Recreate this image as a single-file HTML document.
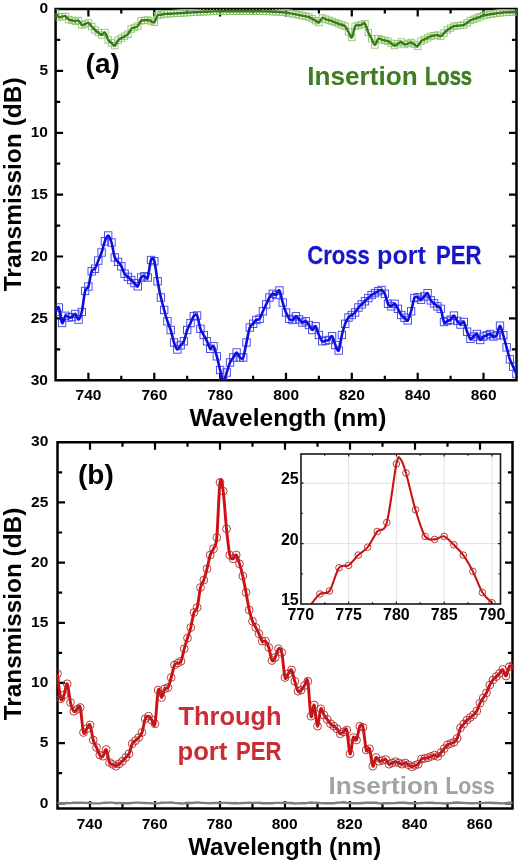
<!DOCTYPE html>
<html lang="en"><head><meta charset="utf-8"><title>Transmission vs Wavelength</title>
<style>html,body{margin:0;padding:0;background:#fff}body{width:520px;height:862px;overflow:hidden}</style></head>
<body>
<svg width="520" height="862" viewBox="0 0 520 862" style="display:block">
<rect width="520" height="862" fill="#fff"/>
<g id="panel-a">
<path d="M88.4 9.0v7.5M88.4 380.25v-7.5M121.3 9.0v4.6M121.3 380.25v-4.6M154.3 9.0v7.5M154.3 380.25v-7.5M187.2 9.0v4.6M187.2 380.25v-4.6M220.1 9.0v7.5M220.1 380.25v-7.5M253.1 9.0v4.6M253.1 380.25v-4.6M286.0 9.0v7.5M286.0 380.25v-7.5M318.9 9.0v4.6M318.9 380.25v-4.6M351.8 9.0v7.5M351.8 380.25v-7.5M384.8 9.0v4.6M384.8 380.25v-4.6M417.7 9.0v7.5M417.7 380.25v-7.5M450.6 9.0v4.6M450.6 380.25v-4.6M483.5 9.0v7.5M483.5 380.25v-7.5M55.6 39.9h4.6M516.5 39.9h-4.6M55.6 70.9h7.5M516.5 70.9h-7.5M55.6 101.8h4.6M516.5 101.8h-4.6M55.6 132.8h7.5M516.5 132.8h-7.5M55.6 163.7h4.6M516.5 163.7h-4.6M55.6 194.7h7.5M516.5 194.7h-7.5M55.6 225.6h4.6M516.5 225.6h-4.6M55.6 256.5h7.5M516.5 256.5h-7.5M55.6 287.5h4.6M516.5 287.5h-4.6M55.6 318.4h7.5M516.5 318.4h-7.5M55.6 349.4h4.6M516.5 349.4h-4.6" stroke="#000" stroke-width="2.2" fill="none"/>
<rect x="55.6" y="9.0" width="460.90" height="371.25" fill="none" stroke="#000" stroke-width="2.5"/>
<clipPath id="ca"><rect x="55.6" y="9.0" width="460.90" height="371.25"/></clipPath>
<g clip-path="url(#ca)">
<g fill="none" stroke="#8fc56e" stroke-width="0.9">
<rect x="52.3" y="9.8" width="6.4" height="6.4"/>
<rect x="55.6" y="13.8" width="6.4" height="6.4"/>
<rect x="58.9" y="13.4" width="6.4" height="6.4"/>
<rect x="62.2" y="13.1" width="6.4" height="6.4"/>
<rect x="65.5" y="16.3" width="6.4" height="6.4"/>
<rect x="68.8" y="17.2" width="6.4" height="6.4"/>
<rect x="72.1" y="18.1" width="6.4" height="6.4"/>
<rect x="75.3" y="17.3" width="6.4" height="6.4"/>
<rect x="78.6" y="21.8" width="6.4" height="6.4"/>
<rect x="81.9" y="20.8" width="6.4" height="6.4"/>
<rect x="85.2" y="19.8" width="6.4" height="6.4"/>
<rect x="88.5" y="23.3" width="6.4" height="6.4"/>
<rect x="91.8" y="26.8" width="6.4" height="6.4"/>
<rect x="95.1" y="29.3" width="6.4" height="6.4"/>
<rect x="98.4" y="31.8" width="6.4" height="6.4"/>
<rect x="101.7" y="29.3" width="6.4" height="6.4"/>
<rect x="105.0" y="36.8" width="6.4" height="6.4"/>
<rect x="108.3" y="39.7" width="6.4" height="6.4"/>
<rect x="111.6" y="42.5" width="6.4" height="6.4"/>
<rect x="114.9" y="37.0" width="6.4" height="6.4"/>
<rect x="118.1" y="35.0" width="6.4" height="6.4"/>
<rect x="121.4" y="33.0" width="6.4" height="6.4"/>
<rect x="124.7" y="31.1" width="6.4" height="6.4"/>
<rect x="128.0" y="25.8" width="6.4" height="6.4"/>
<rect x="131.3" y="24.3" width="6.4" height="6.4"/>
<rect x="134.6" y="22.8" width="6.4" height="6.4"/>
<rect x="137.9" y="17.6" width="6.4" height="6.4"/>
<rect x="141.2" y="17.2" width="6.4" height="6.4"/>
<rect x="144.5" y="16.8" width="6.4" height="6.4"/>
<rect x="147.8" y="17.9" width="6.4" height="6.4"/>
<rect x="151.1" y="19.1" width="6.4" height="6.4"/>
<rect x="154.4" y="12.3" width="6.4" height="6.4"/>
<rect x="157.7" y="11.6" width="6.4" height="6.4"/>
<rect x="161.0" y="10.8" width="6.4" height="6.4"/>
<rect x="164.2" y="10.6" width="6.4" height="6.4"/>
<rect x="167.5" y="10.5" width="6.4" height="6.4"/>
<rect x="170.8" y="10.3" width="6.4" height="6.4"/>
<rect x="174.1" y="10.1" width="6.4" height="6.4"/>
<rect x="177.4" y="9.9" width="6.4" height="6.4"/>
<rect x="180.7" y="9.7" width="6.4" height="6.4"/>
<rect x="184.0" y="9.5" width="6.4" height="6.4"/>
<rect x="187.3" y="9.3" width="6.4" height="6.4"/>
<rect x="190.6" y="9.1" width="6.4" height="6.4"/>
<rect x="193.9" y="9.0" width="6.4" height="6.4"/>
<rect x="197.2" y="8.8" width="6.4" height="6.4"/>
<rect x="200.5" y="8.6" width="6.4" height="6.4"/>
<rect x="203.8" y="8.5" width="6.4" height="6.4"/>
<rect x="207.0" y="8.3" width="6.4" height="6.4"/>
<rect x="210.3" y="8.2" width="6.4" height="6.4"/>
<rect x="213.6" y="8.2" width="6.4" height="6.4"/>
<rect x="216.9" y="8.1" width="6.4" height="6.4"/>
<rect x="220.2" y="8.1" width="6.4" height="6.4"/>
<rect x="223.5" y="8.1" width="6.4" height="6.4"/>
<rect x="226.8" y="8.0" width="6.4" height="6.4"/>
<rect x="230.1" y="8.0" width="6.4" height="6.4"/>
<rect x="233.4" y="8.0" width="6.4" height="6.4"/>
<rect x="236.7" y="8.0" width="6.4" height="6.4"/>
<rect x="240.0" y="8.0" width="6.4" height="6.4"/>
<rect x="243.3" y="8.0" width="6.4" height="6.4"/>
<rect x="246.6" y="8.0" width="6.4" height="6.4"/>
<rect x="249.9" y="8.1" width="6.4" height="6.4"/>
<rect x="253.1" y="8.1" width="6.4" height="6.4"/>
<rect x="256.4" y="8.1" width="6.4" height="6.4"/>
<rect x="259.7" y="8.2" width="6.4" height="6.4"/>
<rect x="263.0" y="8.2" width="6.4" height="6.4"/>
<rect x="266.3" y="8.3" width="6.4" height="6.4"/>
<rect x="269.6" y="8.5" width="6.4" height="6.4"/>
<rect x="272.9" y="8.7" width="6.4" height="6.4"/>
<rect x="276.2" y="8.9" width="6.4" height="6.4"/>
<rect x="279.5" y="9.1" width="6.4" height="6.4"/>
<rect x="282.8" y="9.3" width="6.4" height="6.4"/>
<rect x="286.1" y="9.9" width="6.4" height="6.4"/>
<rect x="289.4" y="10.6" width="6.4" height="6.4"/>
<rect x="292.7" y="11.2" width="6.4" height="6.4"/>
<rect x="295.9" y="11.8" width="6.4" height="6.4"/>
<rect x="299.2" y="12.5" width="6.4" height="6.4"/>
<rect x="302.5" y="13.1" width="6.4" height="6.4"/>
<rect x="305.8" y="13.8" width="6.4" height="6.4"/>
<rect x="309.1" y="15.6" width="6.4" height="6.4"/>
<rect x="312.4" y="17.5" width="6.4" height="6.4"/>
<rect x="315.7" y="19.3" width="6.4" height="6.4"/>
<rect x="319.0" y="14.8" width="6.4" height="6.4"/>
<rect x="322.3" y="15.9" width="6.4" height="6.4"/>
<rect x="325.6" y="17.0" width="6.4" height="6.4"/>
<rect x="328.9" y="18.1" width="6.4" height="6.4"/>
<rect x="332.2" y="19.3" width="6.4" height="6.4"/>
<rect x="335.5" y="20.6" width="6.4" height="6.4"/>
<rect x="338.7" y="21.8" width="6.4" height="6.4"/>
<rect x="342.0" y="23.1" width="6.4" height="6.4"/>
<rect x="345.3" y="28.7" width="6.4" height="6.4"/>
<rect x="348.6" y="34.3" width="6.4" height="6.4"/>
<rect x="351.9" y="23.1" width="6.4" height="6.4"/>
<rect x="355.2" y="22.2" width="6.4" height="6.4"/>
<rect x="358.5" y="21.4" width="6.4" height="6.4"/>
<rect x="361.8" y="20.6" width="6.4" height="6.4"/>
<rect x="365.1" y="29.3" width="6.4" height="6.4"/>
<rect x="368.4" y="35.5" width="6.4" height="6.4"/>
<rect x="371.7" y="41.8" width="6.4" height="6.4"/>
<rect x="375.0" y="35.5" width="6.4" height="6.4"/>
<rect x="378.3" y="36.4" width="6.4" height="6.4"/>
<rect x="381.6" y="37.2" width="6.4" height="6.4"/>
<rect x="384.8" y="38.0" width="6.4" height="6.4"/>
<rect x="388.1" y="40.2" width="6.4" height="6.4"/>
<rect x="391.4" y="42.3" width="6.4" height="6.4"/>
<rect x="394.7" y="40.5" width="6.4" height="6.4"/>
<rect x="398.0" y="38.8" width="6.4" height="6.4"/>
<rect x="401.3" y="41.3" width="6.4" height="6.4"/>
<rect x="404.6" y="40.3" width="6.4" height="6.4"/>
<rect x="407.9" y="39.3" width="6.4" height="6.4"/>
<rect x="411.2" y="41.2" width="6.4" height="6.4"/>
<rect x="414.5" y="43.0" width="6.4" height="6.4"/>
<rect x="417.8" y="38.0" width="6.4" height="6.4"/>
<rect x="421.1" y="36.4" width="6.4" height="6.4"/>
<rect x="424.4" y="34.7" width="6.4" height="6.4"/>
<rect x="427.6" y="33.0" width="6.4" height="6.4"/>
<rect x="430.9" y="32.4" width="6.4" height="6.4"/>
<rect x="434.2" y="31.8" width="6.4" height="6.4"/>
<rect x="437.5" y="33.0" width="6.4" height="6.4"/>
<rect x="440.8" y="29.9" width="6.4" height="6.4"/>
<rect x="444.1" y="26.8" width="6.4" height="6.4"/>
<rect x="447.4" y="24.9" width="6.4" height="6.4"/>
<rect x="450.7" y="23.1" width="6.4" height="6.4"/>
<rect x="454.0" y="22.6" width="6.4" height="6.4"/>
<rect x="457.3" y="22.2" width="6.4" height="6.4"/>
<rect x="460.6" y="21.8" width="6.4" height="6.4"/>
<rect x="463.9" y="19.6" width="6.4" height="6.4"/>
<rect x="467.2" y="17.3" width="6.4" height="6.4"/>
<rect x="470.4" y="16.1" width="6.4" height="6.4"/>
<rect x="473.7" y="14.8" width="6.4" height="6.4"/>
<rect x="477.0" y="13.6" width="6.4" height="6.4"/>
<rect x="480.3" y="12.3" width="6.4" height="6.4"/>
<rect x="483.6" y="11.7" width="6.4" height="6.4"/>
<rect x="486.9" y="11.1" width="6.4" height="6.4"/>
<rect x="490.2" y="10.6" width="6.4" height="6.4"/>
<rect x="493.5" y="10.1" width="6.4" height="6.4"/>
<rect x="496.8" y="9.7" width="6.4" height="6.4"/>
<rect x="500.1" y="9.3" width="6.4" height="6.4"/>
<rect x="503.4" y="9.2" width="6.4" height="6.4"/>
<rect x="506.7" y="9.1" width="6.4" height="6.4"/>
<rect x="510.0" y="8.9" width="6.4" height="6.4"/>
<rect x="513.2" y="8.8" width="6.4" height="6.4"/>
</g>
<path d="M55.5 13.0C56.0 13.7 57.7 16.4 58.8 17.0C59.9 17.6 61.0 16.8 62.1 16.6C63.2 16.5 64.3 15.8 65.4 16.2C66.5 16.7 67.6 18.8 68.7 19.5C69.8 20.2 70.9 20.1 72.0 20.4C73.1 20.7 74.2 21.2 75.3 21.2C76.4 21.3 77.5 19.9 78.5 20.5C79.6 21.1 80.7 24.4 81.8 25.0C82.9 25.6 84.0 24.3 85.1 24.0C86.2 23.7 87.3 22.6 88.4 23.0C89.5 23.4 90.6 25.3 91.7 26.5C92.8 27.7 93.9 29.0 95.0 30.0C96.1 31.0 97.2 31.7 98.3 32.5C99.4 33.3 100.5 35.0 101.6 35.0C102.7 35.0 103.8 31.7 104.9 32.5C106.0 33.3 107.1 38.3 108.2 40.0C109.3 41.7 110.4 41.9 111.5 42.9C112.6 43.8 113.7 46.2 114.8 45.8C115.9 45.3 117.0 41.5 118.1 40.2C119.2 39.0 120.3 38.9 121.3 38.2C122.4 37.6 123.5 36.9 124.6 36.2C125.7 35.6 126.8 35.5 127.9 34.2C129.0 33.0 130.1 30.1 131.2 29.0C132.3 27.9 133.4 28.0 134.5 27.5C135.6 27.0 136.7 27.1 137.8 26.0C138.9 24.9 140.0 21.7 141.1 20.8C142.2 19.8 143.3 20.5 144.4 20.4C145.5 20.2 146.6 19.9 147.7 20.0C148.8 20.1 149.9 20.8 151.0 21.1C152.1 21.5 153.2 23.2 154.3 22.2C155.4 21.3 156.5 16.8 157.6 15.5C158.7 14.2 159.8 15.0 160.9 14.8C162.0 14.5 163.1 14.2 164.2 14.0C165.2 13.8 166.3 13.9 167.4 13.8C168.5 13.8 169.6 13.7 170.7 13.7C171.8 13.6 172.9 13.6 174.0 13.5C175.1 13.4 176.2 13.4 177.3 13.3C178.4 13.2 179.5 13.2 180.6 13.1C181.7 13.0 182.8 13.0 183.9 12.9C185.0 12.8 186.1 12.8 187.2 12.7C188.3 12.6 189.4 12.6 190.5 12.5C191.6 12.4 192.7 12.4 193.8 12.3C194.9 12.3 196.0 12.2 197.1 12.2C198.2 12.1 199.3 12.1 200.4 12.0C201.5 11.9 202.6 11.9 203.7 11.8C204.8 11.8 205.9 11.7 207.0 11.7C208.1 11.6 209.2 11.5 210.2 11.5C211.3 11.5 212.4 11.5 213.5 11.4C214.6 11.4 215.7 11.4 216.8 11.4C217.9 11.4 219.0 11.4 220.1 11.3C221.2 11.3 222.3 11.3 223.4 11.3C224.5 11.3 225.6 11.3 226.7 11.2C227.8 11.2 228.9 11.2 230.0 11.2C231.1 11.2 232.2 11.2 233.3 11.2C234.4 11.2 235.5 11.2 236.6 11.2C237.7 11.2 238.8 11.2 239.9 11.2C241.0 11.2 242.1 11.2 243.2 11.2C244.3 11.2 245.4 11.2 246.5 11.2C247.6 11.2 248.7 11.2 249.8 11.2C250.9 11.2 252.0 11.2 253.1 11.2C254.1 11.3 255.2 11.3 256.3 11.3C257.4 11.3 258.5 11.3 259.6 11.3C260.7 11.4 261.8 11.4 262.9 11.4C264.0 11.4 265.1 11.4 266.2 11.4C267.3 11.5 268.4 11.5 269.5 11.5C270.6 11.5 271.7 11.6 272.8 11.7C273.9 11.8 275.0 11.8 276.1 11.9C277.2 12.0 278.3 12.0 279.4 12.1C280.5 12.2 281.6 12.2 282.7 12.3C283.8 12.4 284.9 12.4 286.0 12.5C287.1 12.6 288.2 12.9 289.3 13.1C290.4 13.3 291.5 13.5 292.6 13.8C293.7 14.0 294.8 14.2 295.9 14.4C296.9 14.6 298.0 14.8 299.1 15.0C300.2 15.2 301.3 15.4 302.4 15.7C303.5 15.9 304.6 16.1 305.7 16.3C306.8 16.6 307.9 16.6 309.0 17.0C310.1 17.4 311.2 18.2 312.3 18.8C313.4 19.4 314.5 20.1 315.6 20.7C316.7 21.3 317.8 22.9 318.9 22.5C320.0 22.1 321.1 18.6 322.2 18.0C323.3 17.4 324.4 18.7 325.5 19.1C326.6 19.4 327.7 19.8 328.8 20.2C329.9 20.5 331.0 20.9 332.1 21.2C333.2 21.6 334.3 22.1 335.4 22.5C336.5 22.9 337.6 23.3 338.7 23.8C339.8 24.2 340.8 24.6 341.9 25.0C343.0 25.4 344.1 25.1 345.2 26.2C346.3 27.4 347.4 30.0 348.5 31.9C349.6 33.8 350.7 38.4 351.8 37.5C352.9 36.6 354.0 28.3 355.1 26.2C356.2 24.2 357.3 25.7 358.4 25.4C359.5 25.1 360.6 24.9 361.7 24.6C362.8 24.3 363.9 22.4 365.0 23.8C366.1 25.1 367.2 30.0 368.3 32.5C369.4 35.0 370.5 36.7 371.6 38.8C372.7 40.8 373.8 45.0 374.9 45.0C376.0 45.0 377.1 39.7 378.2 38.8C379.3 37.8 380.4 39.3 381.5 39.6C382.6 39.9 383.7 40.1 384.8 40.4C385.8 40.7 386.9 40.8 388.0 41.2C389.1 41.7 390.2 42.7 391.3 43.4C392.4 44.1 393.5 45.4 394.6 45.5C395.7 45.6 396.8 44.3 397.9 43.8C399.0 43.2 400.1 41.9 401.2 42.0C402.3 42.1 403.4 44.2 404.5 44.5C405.6 44.8 406.7 43.8 407.8 43.5C408.9 43.2 410.0 42.4 411.1 42.5C412.2 42.6 413.3 43.8 414.4 44.4C415.5 45.0 416.6 46.8 417.7 46.2C418.8 45.7 419.9 42.4 421.0 41.2C422.1 40.1 423.2 40.1 424.3 39.6C425.4 39.0 426.5 38.5 427.6 37.9C428.6 37.4 429.7 36.6 430.8 36.2C431.9 35.9 433.0 35.8 434.1 35.6C435.2 35.4 436.3 34.9 437.4 35.0C438.5 35.1 439.6 36.6 440.7 36.2C441.8 35.9 442.9 34.2 444.0 33.1C445.1 32.1 446.2 30.8 447.3 30.0C448.4 29.2 449.5 28.8 450.6 28.1C451.7 27.5 452.8 26.6 453.9 26.2C455.0 25.9 456.1 26.0 457.2 25.8C458.3 25.7 459.4 25.6 460.5 25.4C461.6 25.3 462.7 25.4 463.8 25.0C464.9 24.6 466.0 23.5 467.1 22.8C468.2 22.0 469.3 21.1 470.4 20.5C471.5 19.9 472.5 19.7 473.6 19.2C474.7 18.8 475.8 18.4 476.9 18.0C478.0 17.6 479.1 17.2 480.2 16.8C481.3 16.3 482.4 15.8 483.5 15.5C484.6 15.2 485.7 15.1 486.8 14.9C487.9 14.7 489.0 14.5 490.1 14.3C491.2 14.1 492.3 13.9 493.4 13.8C494.5 13.6 495.6 13.5 496.7 13.3C497.8 13.2 498.9 13.1 500.0 12.9C501.1 12.8 502.2 12.6 503.3 12.5C504.4 12.4 505.5 12.4 506.6 12.4C507.7 12.3 508.8 12.3 509.9 12.2C511.0 12.2 512.1 12.2 513.2 12.1C514.3 12.1 515.9 12.0 516.5 12.0" fill="none" stroke="#38791a" stroke-width="2.4" stroke-linejoin="round"/>
<g fill="none" stroke="#3d3dee" stroke-width="0.9">
<rect x="51.8" y="308.3" width="7.4" height="7.4"/>
<rect x="55.1" y="303.8" width="7.4" height="7.4"/>
<rect x="58.4" y="319.3" width="7.4" height="7.4"/>
<rect x="61.7" y="312.1" width="7.4" height="7.4"/>
<rect x="65.0" y="313.8" width="7.4" height="7.4"/>
<rect x="68.3" y="313.3" width="7.4" height="7.4"/>
<rect x="71.6" y="310.3" width="7.4" height="7.4"/>
<rect x="74.8" y="315.9" width="7.4" height="7.4"/>
<rect x="78.1" y="308.3" width="7.4" height="7.4"/>
<rect x="81.4" y="287.3" width="7.4" height="7.4"/>
<rect x="84.7" y="282.8" width="7.4" height="7.4"/>
<rect x="88.0" y="267.6" width="7.4" height="7.4"/>
<rect x="91.3" y="265.1" width="7.4" height="7.4"/>
<rect x="94.6" y="256.9" width="7.4" height="7.4"/>
<rect x="97.9" y="248.8" width="7.4" height="7.4"/>
<rect x="101.2" y="237.6" width="7.4" height="7.4"/>
<rect x="104.5" y="231.8" width="7.4" height="7.4"/>
<rect x="107.8" y="238.8" width="7.4" height="7.4"/>
<rect x="111.1" y="253.8" width="7.4" height="7.4"/>
<rect x="114.4" y="258.2" width="7.4" height="7.4"/>
<rect x="117.6" y="262.6" width="7.4" height="7.4"/>
<rect x="120.9" y="270.1" width="7.4" height="7.4"/>
<rect x="124.2" y="273.2" width="7.4" height="7.4"/>
<rect x="127.5" y="276.3" width="7.4" height="7.4"/>
<rect x="130.8" y="279.4" width="7.4" height="7.4"/>
<rect x="134.1" y="282.6" width="7.4" height="7.4"/>
<rect x="137.4" y="273.8" width="7.4" height="7.4"/>
<rect x="140.7" y="272.6" width="7.4" height="7.4"/>
<rect x="144.0" y="273.8" width="7.4" height="7.4"/>
<rect x="147.3" y="256.3" width="7.4" height="7.4"/>
<rect x="150.6" y="257.6" width="7.4" height="7.4"/>
<rect x="153.9" y="277.6" width="7.4" height="7.4"/>
<rect x="157.2" y="293.8" width="7.4" height="7.4"/>
<rect x="160.5" y="306.3" width="7.4" height="7.4"/>
<rect x="163.7" y="317.6" width="7.4" height="7.4"/>
<rect x="167.0" y="326.3" width="7.4" height="7.4"/>
<rect x="170.3" y="338.8" width="7.4" height="7.4"/>
<rect x="173.6" y="345.8" width="7.4" height="7.4"/>
<rect x="176.9" y="341.7" width="7.4" height="7.4"/>
<rect x="180.2" y="337.6" width="7.4" height="7.4"/>
<rect x="183.5" y="326.3" width="7.4" height="7.4"/>
<rect x="186.8" y="319.4" width="7.4" height="7.4"/>
<rect x="190.1" y="312.6" width="7.4" height="7.4"/>
<rect x="193.4" y="311.8" width="7.4" height="7.4"/>
<rect x="196.7" y="325.1" width="7.4" height="7.4"/>
<rect x="200.0" y="331.3" width="7.4" height="7.4"/>
<rect x="203.3" y="337.6" width="7.4" height="7.4"/>
<rect x="206.5" y="345.1" width="7.4" height="7.4"/>
<rect x="209.8" y="342.6" width="7.4" height="7.4"/>
<rect x="213.1" y="352.6" width="7.4" height="7.4"/>
<rect x="216.4" y="366.3" width="7.4" height="7.4"/>
<rect x="219.7" y="377.6" width="7.4" height="7.4"/>
<rect x="223.0" y="368.8" width="7.4" height="7.4"/>
<rect x="226.3" y="358.8" width="7.4" height="7.4"/>
<rect x="229.6" y="353.8" width="7.4" height="7.4"/>
<rect x="232.9" y="348.8" width="7.4" height="7.4"/>
<rect x="236.2" y="353.8" width="7.4" height="7.4"/>
<rect x="239.5" y="353.8" width="7.4" height="7.4"/>
<rect x="242.8" y="338.8" width="7.4" height="7.4"/>
<rect x="246.1" y="323.8" width="7.4" height="7.4"/>
<rect x="249.4" y="320.1" width="7.4" height="7.4"/>
<rect x="252.6" y="316.3" width="7.4" height="7.4"/>
<rect x="255.9" y="315.1" width="7.4" height="7.4"/>
<rect x="259.2" y="307.6" width="7.4" height="7.4"/>
<rect x="262.5" y="300.7" width="7.4" height="7.4"/>
<rect x="265.8" y="293.8" width="7.4" height="7.4"/>
<rect x="269.1" y="290.1" width="7.4" height="7.4"/>
<rect x="272.4" y="291.3" width="7.4" height="7.4"/>
<rect x="275.7" y="286.8" width="7.4" height="7.4"/>
<rect x="279.0" y="298.8" width="7.4" height="7.4"/>
<rect x="282.3" y="308.8" width="7.4" height="7.4"/>
<rect x="285.6" y="315.1" width="7.4" height="7.4"/>
<rect x="288.9" y="316.3" width="7.4" height="7.4"/>
<rect x="292.2" y="312.6" width="7.4" height="7.4"/>
<rect x="295.4" y="315.7" width="7.4" height="7.4"/>
<rect x="298.7" y="318.8" width="7.4" height="7.4"/>
<rect x="302.0" y="317.6" width="7.4" height="7.4"/>
<rect x="305.3" y="321.3" width="7.4" height="7.4"/>
<rect x="308.6" y="326.3" width="7.4" height="7.4"/>
<rect x="311.9" y="322.6" width="7.4" height="7.4"/>
<rect x="315.2" y="331.3" width="7.4" height="7.4"/>
<rect x="318.5" y="337.6" width="7.4" height="7.4"/>
<rect x="321.8" y="336.9" width="7.4" height="7.4"/>
<rect x="325.1" y="336.3" width="7.4" height="7.4"/>
<rect x="328.4" y="332.6" width="7.4" height="7.4"/>
<rect x="331.7" y="341.3" width="7.4" height="7.4"/>
<rect x="335.0" y="346.8" width="7.4" height="7.4"/>
<rect x="338.2" y="331.3" width="7.4" height="7.4"/>
<rect x="341.5" y="320.1" width="7.4" height="7.4"/>
<rect x="344.8" y="313.8" width="7.4" height="7.4"/>
<rect x="348.1" y="311.3" width="7.4" height="7.4"/>
<rect x="351.4" y="308.8" width="7.4" height="7.4"/>
<rect x="354.7" y="303.8" width="7.4" height="7.4"/>
<rect x="358.0" y="300.7" width="7.4" height="7.4"/>
<rect x="361.3" y="297.6" width="7.4" height="7.4"/>
<rect x="364.6" y="294.4" width="7.4" height="7.4"/>
<rect x="367.9" y="291.3" width="7.4" height="7.4"/>
<rect x="371.2" y="289.4" width="7.4" height="7.4"/>
<rect x="374.5" y="287.6" width="7.4" height="7.4"/>
<rect x="377.8" y="286.3" width="7.4" height="7.4"/>
<rect x="381.1" y="290.1" width="7.4" height="7.4"/>
<rect x="384.3" y="300.1" width="7.4" height="7.4"/>
<rect x="387.6" y="302.6" width="7.4" height="7.4"/>
<rect x="390.9" y="300.1" width="7.4" height="7.4"/>
<rect x="394.2" y="305.1" width="7.4" height="7.4"/>
<rect x="397.5" y="311.3" width="7.4" height="7.4"/>
<rect x="400.8" y="314.0" width="7.4" height="7.4"/>
<rect x="404.1" y="316.7" width="7.4" height="7.4"/>
<rect x="407.4" y="307.6" width="7.4" height="7.4"/>
<rect x="410.7" y="294.3" width="7.4" height="7.4"/>
<rect x="414.0" y="293.6" width="7.4" height="7.4"/>
<rect x="417.3" y="296.0" width="7.4" height="7.4"/>
<rect x="420.6" y="292.8" width="7.4" height="7.4"/>
<rect x="423.9" y="289.5" width="7.4" height="7.4"/>
<rect x="427.1" y="296.7" width="7.4" height="7.4"/>
<rect x="430.4" y="299.7" width="7.4" height="7.4"/>
<rect x="433.7" y="302.7" width="7.4" height="7.4"/>
<rect x="437.0" y="305.1" width="7.4" height="7.4"/>
<rect x="440.3" y="318.3" width="7.4" height="7.4"/>
<rect x="443.6" y="317.2" width="7.4" height="7.4"/>
<rect x="446.9" y="316.0" width="7.4" height="7.4"/>
<rect x="450.2" y="311.9" width="7.4" height="7.4"/>
<rect x="453.5" y="317.2" width="7.4" height="7.4"/>
<rect x="456.8" y="320.8" width="7.4" height="7.4"/>
<rect x="460.1" y="318.3" width="7.4" height="7.4"/>
<rect x="463.4" y="328.0" width="7.4" height="7.4"/>
<rect x="466.7" y="335.2" width="7.4" height="7.4"/>
<rect x="469.9" y="332.8" width="7.4" height="7.4"/>
<rect x="473.2" y="330.3" width="7.4" height="7.4"/>
<rect x="476.5" y="336.3" width="7.4" height="7.4"/>
<rect x="479.8" y="332.8" width="7.4" height="7.4"/>
<rect x="483.1" y="331.6" width="7.4" height="7.4"/>
<rect x="486.4" y="330.3" width="7.4" height="7.4"/>
<rect x="489.7" y="332.8" width="7.4" height="7.4"/>
<rect x="493.0" y="331.6" width="7.4" height="7.4"/>
<rect x="496.3" y="322.0" width="7.4" height="7.4"/>
<rect x="499.6" y="331.6" width="7.4" height="7.4"/>
<rect x="502.9" y="343.6" width="7.4" height="7.4"/>
<rect x="506.2" y="355.6" width="7.4" height="7.4"/>
<rect x="509.5" y="362.9" width="7.4" height="7.4"/>
<rect x="512.8" y="370.3" width="7.4" height="7.4"/>
</g>
<path d="M55.5 312.0C56.0 311.2 57.7 305.7 58.8 307.5C59.9 309.3 61.0 321.6 62.1 323.0C63.2 324.4 64.3 316.7 65.4 315.8C66.5 314.9 67.6 317.3 68.7 317.5C69.8 317.7 70.9 317.6 72.0 317.0C73.1 316.4 74.2 313.6 75.3 314.0C76.4 314.4 77.5 319.9 78.5 319.6C79.6 319.3 80.7 316.8 81.8 312.0C82.9 307.2 84.0 295.2 85.1 291.0C86.2 286.8 87.3 289.8 88.4 286.5C89.5 283.2 90.6 274.2 91.7 271.2C92.8 268.3 93.9 270.5 95.0 268.8C96.1 267.0 97.2 263.3 98.3 260.6C99.4 257.9 100.5 255.7 101.6 252.5C102.7 249.3 103.8 244.1 104.9 241.2C106.0 238.4 107.1 235.3 108.2 235.5C109.3 235.7 110.4 238.8 111.5 242.5C112.6 246.2 113.7 254.3 114.8 257.5C115.9 260.7 117.0 260.4 118.1 261.9C119.2 263.3 120.3 264.3 121.3 266.2C122.4 268.2 123.5 272.0 124.6 273.8C125.7 275.5 126.8 275.8 127.9 276.9C129.0 277.9 130.1 279.0 131.2 280.0C132.3 281.0 133.4 282.1 134.5 283.1C135.6 284.2 136.7 287.2 137.8 286.2C138.9 285.3 140.0 279.2 141.1 277.5C142.2 275.8 143.3 276.2 144.4 276.2C145.5 276.2 146.6 280.2 147.7 277.5C148.8 274.8 149.9 262.7 151.0 260.0C152.1 257.3 153.2 257.7 154.3 261.2C155.4 264.8 156.5 275.2 157.6 281.2C158.7 287.3 159.8 292.7 160.9 297.5C162.0 302.3 163.1 306.0 164.2 310.0C165.2 314.0 166.3 317.9 167.4 321.2C168.5 324.6 169.6 326.5 170.7 330.0C171.8 333.5 172.9 339.2 174.0 342.5C175.1 345.8 176.2 349.0 177.3 349.5C178.4 350.0 179.5 346.8 180.6 345.4C181.7 344.0 182.8 343.8 183.9 341.2C185.0 338.7 186.1 333.0 187.2 330.0C188.3 327.0 189.4 325.4 190.5 323.1C191.6 320.8 192.7 317.5 193.8 316.2C194.9 315.0 196.0 313.4 197.1 315.5C198.2 317.6 199.3 325.5 200.4 328.8C201.5 332.0 202.6 332.9 203.7 335.0C204.8 337.1 205.9 339.0 207.0 341.2C208.1 343.5 209.2 347.9 210.2 348.8C211.3 349.6 212.4 345.0 213.5 346.2C214.6 347.5 215.7 352.3 216.8 356.2C217.9 360.2 219.0 365.8 220.1 370.0C221.2 374.2 222.3 380.8 223.4 381.2C224.5 381.7 225.6 375.6 226.7 372.5C227.8 369.4 228.9 365.0 230.0 362.5C231.1 360.0 232.2 359.2 233.3 357.5C234.4 355.8 235.5 352.5 236.6 352.5C237.7 352.5 238.8 356.7 239.9 357.5C241.0 358.3 242.1 360.0 243.2 357.5C244.3 355.0 245.4 347.5 246.5 342.5C247.6 337.5 248.7 330.6 249.8 327.5C250.9 324.4 252.0 325.0 253.1 323.8C254.1 322.5 255.2 320.8 256.3 320.0C257.4 319.2 258.5 320.2 259.6 318.8C260.7 317.3 261.8 313.6 262.9 311.2C264.0 308.9 265.1 306.7 266.2 304.4C267.3 302.1 268.4 299.3 269.5 297.5C270.6 295.7 271.7 294.2 272.8 293.8C273.9 293.3 275.0 295.5 276.1 295.0C277.2 294.5 278.3 289.2 279.4 290.5C280.5 291.8 281.6 298.8 282.7 302.5C283.8 306.2 284.9 309.8 286.0 312.5C287.1 315.2 288.2 317.5 289.3 318.8C290.4 320.0 291.5 320.4 292.6 320.0C293.7 319.6 294.8 316.4 295.9 316.2C296.9 316.1 298.0 318.3 299.1 319.4C300.2 320.4 301.3 322.2 302.4 322.5C303.5 322.8 304.6 320.8 305.7 321.2C306.8 321.7 307.9 323.5 309.0 325.0C310.1 326.5 311.2 329.8 312.3 330.0C313.4 330.2 314.5 325.4 315.6 326.2C316.7 327.1 317.8 332.5 318.9 335.0C320.0 337.5 321.1 340.3 322.2 341.2C323.3 342.2 324.4 340.8 325.5 340.6C326.6 340.4 327.7 340.7 328.8 340.0C329.9 339.3 331.0 335.4 332.1 336.2C333.2 337.1 334.3 342.6 335.4 345.0C336.5 347.4 337.6 352.2 338.7 350.5C339.8 348.8 340.8 339.5 341.9 335.0C343.0 330.5 344.1 326.7 345.2 323.8C346.3 320.8 347.4 319.0 348.5 317.5C349.6 316.0 350.7 315.8 351.8 315.0C352.9 314.2 354.0 313.8 355.1 312.5C356.2 311.2 357.3 308.9 358.4 307.5C359.5 306.1 360.6 305.4 361.7 304.4C362.8 303.3 363.9 302.3 365.0 301.2C366.1 300.2 367.2 299.2 368.3 298.1C369.4 297.1 370.5 295.8 371.6 295.0C372.7 294.2 373.8 293.8 374.9 293.1C376.0 292.5 377.1 291.8 378.2 291.2C379.3 290.7 380.4 289.6 381.5 290.0C382.6 290.4 383.7 291.5 384.8 293.8C385.8 296.0 386.9 301.7 388.0 303.8C389.1 305.8 390.2 306.2 391.3 306.2C392.4 306.2 393.5 303.3 394.6 303.8C395.7 304.2 396.8 306.9 397.9 308.8C399.0 310.6 400.1 313.5 401.2 315.0C402.3 316.5 403.4 316.8 404.5 317.7C405.6 318.6 406.7 321.5 407.8 320.4C408.9 319.3 410.0 315.0 411.1 311.2C412.2 307.5 413.3 300.3 414.4 298.0C415.5 295.7 416.6 297.0 417.7 297.3C418.8 297.6 419.9 299.8 421.0 299.7C422.1 299.6 423.2 297.5 424.3 296.4C425.4 295.4 426.5 292.5 427.6 293.2C428.6 293.9 429.7 298.7 430.8 300.4C431.9 302.1 433.0 302.4 434.1 303.4C435.2 304.4 436.3 305.5 437.4 306.4C438.5 307.3 439.6 306.2 440.7 308.8C441.8 311.4 442.9 320.0 444.0 322.0C445.1 324.0 446.2 321.2 447.3 320.9C448.4 320.5 449.5 320.6 450.6 319.7C451.7 318.8 452.8 315.4 453.9 315.6C455.0 315.8 456.1 319.4 457.2 320.9C458.3 322.4 459.4 324.3 460.5 324.5C461.6 324.7 462.7 320.8 463.8 322.0C464.9 323.2 466.0 328.9 467.1 331.7C468.2 334.5 469.3 338.1 470.4 338.9C471.5 339.7 472.5 337.3 473.6 336.4C474.7 335.6 475.8 333.4 476.9 334.0C478.0 334.6 479.1 339.6 480.2 340.0C481.3 340.4 482.4 337.3 483.5 336.5C484.6 335.7 485.7 335.7 486.8 335.2C487.9 334.8 489.0 333.8 490.1 334.0C491.2 334.2 492.3 336.3 493.4 336.5C494.5 336.7 495.6 337.1 496.7 335.3C497.8 333.5 498.9 325.7 500.0 325.7C501.1 325.7 502.2 331.7 503.3 335.3C504.4 338.9 505.5 343.3 506.6 347.3C507.7 351.3 508.8 356.1 509.9 359.3C511.0 362.5 512.1 364.2 513.2 366.6C514.3 369.1 515.9 372.8 516.5 374.0" fill="none" stroke="#0d0ddc" stroke-width="2.6" stroke-linejoin="round"/>
</g>
</g>
<g id="panel-b">
<path d="M90.0 442.25v7.5M90.0 808.5v-7.5M122.5 442.25v4.6M122.5 808.5v-4.6M155.0 442.25v7.5M155.0 808.5v-7.5M187.5 442.25v4.6M187.5 808.5v-4.6M220.0 442.25v7.5M220.0 808.5v-7.5M252.5 442.25v4.6M252.5 808.5v-4.6M285.0 442.25v7.5M285.0 808.5v-7.5M317.5 442.25v4.6M317.5 808.5v-4.6M350.0 442.25v7.5M350.0 808.5v-7.5M382.5 442.25v4.6M382.5 808.5v-4.6M415.0 442.25v7.5M415.0 808.5v-7.5M447.5 442.25v4.6M447.5 808.5v-4.6M480.0 442.25v7.5M480.0 808.5v-7.5M57.5 803.3h7.5M512.5 803.3h-7.5M57.5 773.2h4.6M512.5 773.2h-4.6M57.5 743.1h7.5M512.5 743.1h-7.5M57.5 713.0h4.6M512.5 713.0h-4.6M57.5 682.9h7.5M512.5 682.9h-7.5M57.5 652.9h4.6M512.5 652.9h-4.6M57.5 622.8h7.5M512.5 622.8h-7.5M57.5 592.7h4.6M512.5 592.7h-4.6M57.5 562.6h7.5M512.5 562.6h-7.5M57.5 532.5h4.6M512.5 532.5h-4.6M57.5 502.4h7.5M512.5 502.4h-7.5M57.5 472.3h4.6M512.5 472.3h-4.6" stroke="#000" stroke-width="2.2" fill="none"/>
<rect x="57.5" y="442.25" width="455.00" height="366.25" fill="none" stroke="#000" stroke-width="2.5"/>
<clipPath id="cb"><rect x="56.7" y="442.25" width="456.60" height="366.25"/></clipPath>
<g clip-path="url(#cb)">
<polyline points="57.5,803.3 60.8,803.3 64.0,803.3 67.2,803.0 70.5,803.1 73.8,802.8 77.0,802.7 80.2,802.6 83.5,802.8 86.8,802.9 90.0,803.0 93.2,803.4 96.5,803.4 99.8,803.4 103.0,802.9 106.2,802.7 109.5,802.6 112.8,802.6 116.0,803.2 119.2,803.0 122.5,803.1 125.8,803.2 129.0,803.3 132.2,802.9 135.5,802.6 138.8,802.6 142.0,802.9 145.2,803.0 148.5,803.1 151.8,803.3 155.0,803.4 158.2,803.4 161.5,802.7 164.8,802.6 168.0,802.6 171.2,802.5 174.5,802.9 177.8,803.1 181.0,803.5 184.2,803.2 187.5,802.8 190.8,803.0 194.0,802.7 197.2,802.4 200.5,802.7 203.8,802.9 207.0,803.1 210.2,803.3 213.5,802.9 216.8,803.0 220.0,803.0 223.2,802.9 226.5,802.9 229.8,803.0 233.0,803.3 236.2,803.0 239.5,803.4 242.8,803.0 246.0,803.0 249.2,802.6 252.5,802.9 255.8,802.9 259.0,802.8 262.2,803.3 265.5,803.1 268.8,803.3 272.0,803.3 275.2,802.9 278.5,802.9 281.8,803.0 285.0,802.6 288.2,803.0 291.5,803.0 294.8,803.5 298.0,803.4 301.2,803.3 304.5,803.2 307.8,802.9 311.0,802.5 314.2,802.9 317.5,802.6 320.8,803.1 324.0,803.3 327.2,803.2 330.5,803.3 333.8,803.2 337.0,802.8 340.2,802.6 343.5,802.3 346.8,802.7 350.0,803.0 353.2,803.2 356.5,803.2 359.8,803.3 363.0,803.0 366.2,802.8 369.5,802.8 372.8,802.6 376.0,802.8 379.2,803.4 382.5,803.4 385.8,803.1 389.0,803.2 392.2,803.1 395.5,803.0 398.8,802.7 402.0,802.6 405.2,802.7 408.5,803.2 411.8,803.3 415.0,803.2 418.2,803.2 421.5,803.0 424.8,802.9 428.0,802.6 431.2,802.8 434.5,803.0 437.8,803.1 441.0,803.1 444.2,803.5 447.5,803.1 450.8,803.1 454.0,802.7 457.2,802.5 460.5,802.8 463.8,802.9 467.0,803.1 470.2,803.3 473.5,803.2 476.8,803.1 480.0,803.0 483.2,803.1 486.5,802.8 489.8,802.6 493.0,803.0 496.2,803.0 499.5,803.2 502.8,803.4 506.0,803.1 509.2,802.8 512.5,802.7" fill="none" stroke="#7d7d7d" stroke-width="2.4" stroke-linejoin="round"/>
<path d="M57.5 673.8C58.0 677.9 59.7 695.2 60.8 698.8C61.8 702.3 62.9 697.5 64.0 695.0C65.1 692.5 66.2 682.5 67.2 683.8C68.3 685.0 69.4 697.9 70.5 702.5C71.6 707.1 72.7 710.1 73.8 711.2C74.8 712.4 75.9 710.0 77.0 709.4C78.1 708.8 79.2 703.6 80.2 707.5C81.3 711.4 82.4 729.0 83.5 732.5C84.6 736.0 85.7 730.0 86.8 728.8C87.8 727.5 88.9 723.1 90.0 725.0C91.1 726.9 92.2 736.2 93.2 740.0C94.3 743.8 95.4 745.0 96.5 747.5C97.6 750.0 98.7 753.5 99.8 755.0C100.8 756.5 101.9 757.2 103.0 756.2C104.1 755.3 105.2 748.5 106.2 749.5C107.3 750.5 108.4 760.0 109.5 762.5C110.6 765.0 111.7 763.8 112.8 764.4C113.8 765.0 114.9 766.4 116.0 766.2C117.1 766.1 118.2 764.6 119.2 763.8C120.3 762.9 121.4 762.3 122.5 761.2C123.6 760.2 124.7 758.8 125.8 757.5C126.8 756.2 127.9 756.0 129.0 753.8C130.1 751.5 131.2 745.9 132.2 743.8C133.3 741.6 134.4 741.7 135.5 740.6C136.6 739.6 137.7 738.9 138.8 737.5C139.8 736.1 140.9 735.6 142.0 732.5C143.1 729.4 144.2 721.5 145.2 718.8C146.3 716.0 147.4 716.0 148.5 716.2C149.6 716.5 150.7 718.8 151.8 720.0C152.8 721.2 153.9 728.8 155.0 723.8C156.1 718.8 157.2 694.4 158.2 690.0C159.3 685.6 160.4 697.7 161.5 697.5C162.6 697.3 163.7 690.4 164.8 688.8C165.8 687.1 166.9 689.4 168.0 687.5C169.1 685.6 170.2 681.2 171.2 677.5C172.3 673.8 173.4 667.4 174.5 665.0C175.6 662.6 176.7 663.8 177.8 663.1C178.8 662.5 179.9 663.6 181.0 661.2C182.1 658.9 183.2 652.6 184.2 648.8C185.3 644.9 186.4 641.7 187.5 638.1C188.6 634.6 189.7 631.8 190.8 627.5C191.8 623.2 192.9 615.8 194.0 612.5C195.1 609.2 196.2 611.7 197.2 607.5C198.3 603.3 199.4 592.1 200.5 587.5C201.6 582.9 202.7 583.1 203.8 580.0C204.8 576.9 205.9 572.9 207.0 568.8C208.1 564.6 209.2 558.3 210.2 555.0C211.3 551.7 212.4 551.7 213.5 548.8C214.6 545.8 215.7 548.5 216.8 537.5C217.8 526.5 218.9 490.2 220.0 482.5C221.1 474.8 222.2 483.5 223.2 491.2C224.3 499.0 225.4 518.1 226.5 528.8C227.6 539.4 228.7 550.0 229.8 555.0C230.8 560.0 231.9 558.8 233.0 558.8C234.1 558.8 235.2 554.2 236.2 555.0C237.3 555.8 238.4 560.2 239.5 563.8C240.6 567.2 241.7 571.2 242.8 576.0C243.8 580.8 244.9 586.8 246.0 592.5C247.1 598.2 248.2 605.2 249.2 610.0C250.3 614.8 251.4 618.3 252.5 621.2C253.6 624.2 254.7 625.4 255.8 627.5C256.8 629.6 257.9 631.5 259.0 633.8C260.1 636.0 261.2 640.0 262.2 641.2C263.3 642.5 264.4 640.2 265.5 641.2C266.6 642.3 267.7 644.3 268.8 647.5C269.8 650.7 270.9 658.8 272.0 660.5C273.1 662.2 274.2 659.5 275.2 657.5C276.3 655.5 277.4 649.6 278.5 648.8C279.6 647.9 280.7 647.7 281.8 652.5C282.8 657.3 283.9 674.0 285.0 677.5C286.1 681.0 287.2 675.0 288.2 673.8C289.3 672.5 290.4 668.8 291.5 670.0C292.6 671.2 293.7 677.7 294.8 681.2C295.8 684.8 296.9 689.8 298.0 691.2C299.1 692.7 300.2 690.9 301.2 690.0C302.3 689.1 303.4 687.1 304.5 685.6C305.6 684.2 306.7 676.1 307.8 681.2C308.8 686.4 309.9 712.3 311.0 716.2C312.1 720.2 313.2 703.3 314.2 705.0C315.3 706.7 316.4 725.6 317.5 726.2C318.6 726.9 319.7 710.6 320.8 708.8C321.8 706.9 322.9 713.2 324.0 715.0C325.1 716.8 326.2 717.9 327.2 719.4C328.3 720.8 329.4 722.6 330.5 723.8C331.6 724.9 332.7 725.4 333.8 726.2C334.8 727.1 335.9 727.5 337.0 728.8C338.1 730.0 339.2 733.2 340.2 733.8C341.3 734.3 342.4 732.5 343.5 731.9C344.6 731.2 345.7 726.4 346.8 730.0C347.8 733.6 348.9 752.5 350.0 753.8C351.1 755.0 352.2 739.8 353.2 737.5C354.3 735.2 355.4 741.9 356.5 740.0C357.6 738.1 358.7 728.3 359.8 726.2C360.8 724.2 361.9 723.5 363.0 727.5C364.1 731.5 365.2 746.5 366.2 750.0C367.3 753.5 368.4 746.0 369.5 748.8C370.6 751.5 371.7 764.8 372.8 766.2C373.8 767.7 374.9 758.3 376.0 757.5C377.1 756.7 378.2 760.8 379.2 761.2C380.3 761.7 381.4 760.7 382.5 760.4C383.6 760.1 384.7 758.9 385.8 759.5C386.8 760.1 387.9 763.6 389.0 764.2C390.1 764.8 391.2 763.3 392.2 762.9C393.3 762.5 394.4 761.6 395.5 761.6C396.6 761.6 397.7 762.5 398.8 762.9C399.8 763.3 400.9 764.2 402.0 764.2C403.1 764.2 404.2 762.8 405.2 762.9C406.3 763.0 407.4 764.2 408.5 764.8C409.6 765.5 410.7 766.7 411.8 766.8C412.8 766.9 413.9 765.9 415.0 765.5C416.1 765.1 417.2 765.3 418.2 764.2C419.3 763.1 420.4 760.0 421.5 759.0C422.6 758.0 423.7 758.6 424.8 758.4C425.8 758.1 426.9 758.0 428.0 757.7C429.1 757.4 430.2 756.8 431.2 756.4C432.3 756.0 433.4 755.1 434.5 755.1C435.6 755.1 436.7 756.8 437.8 756.4C438.8 756.0 439.9 753.8 441.0 752.5C442.1 751.2 443.2 749.9 444.2 748.6C445.3 747.3 446.4 745.6 447.5 744.8C448.6 743.9 449.7 743.9 450.8 743.5C451.8 743.1 452.9 743.1 454.0 742.2C455.1 741.3 456.2 740.7 457.2 738.3C458.3 735.9 459.4 730.3 460.5 727.9C461.6 725.5 462.7 725.3 463.8 724.0C464.8 722.7 465.9 721.2 467.0 720.1C468.1 719.0 469.2 718.4 470.2 717.5C471.3 716.6 472.4 716.0 473.5 714.9C474.6 713.8 475.7 713.0 476.8 711.0C477.8 709.0 478.9 705.4 480.0 703.2C481.1 701.0 482.2 699.7 483.2 698.0C484.3 696.3 485.4 695.0 486.5 692.8C487.6 690.6 488.7 687.1 489.8 685.0C490.8 682.9 491.9 681.3 493.0 679.9C494.1 678.5 495.2 677.7 496.2 676.6C497.3 675.6 498.4 674.6 499.5 673.4C500.6 672.2 501.7 669.1 502.8 669.5C503.8 669.9 504.9 676.4 506.0 676.0C507.1 675.6 508.2 668.6 509.2 666.9C510.3 665.2 512.0 665.8 512.5 665.6" fill="none" stroke="#d10d12" stroke-width="2.9" stroke-linejoin="round"/>
<g fill="none" stroke="#a82a2a" stroke-width="0.9">
<circle cx="57.5" cy="673.8" r="3.9"/>
<circle cx="60.8" cy="698.8" r="3.9"/>
<circle cx="64.0" cy="695.0" r="3.9"/>
<circle cx="67.2" cy="683.8" r="3.9"/>
<circle cx="70.5" cy="702.5" r="3.9"/>
<circle cx="73.8" cy="711.2" r="3.9"/>
<circle cx="77.0" cy="709.4" r="3.9"/>
<circle cx="80.2" cy="707.5" r="3.9"/>
<circle cx="83.5" cy="732.5" r="3.9"/>
<circle cx="86.8" cy="728.8" r="3.9"/>
<circle cx="90.0" cy="725.0" r="3.9"/>
<circle cx="93.2" cy="740.0" r="3.9"/>
<circle cx="96.5" cy="747.5" r="3.9"/>
<circle cx="99.8" cy="755.0" r="3.9"/>
<circle cx="103.0" cy="756.2" r="3.9"/>
<circle cx="106.2" cy="749.5" r="3.9"/>
<circle cx="109.5" cy="762.5" r="3.9"/>
<circle cx="112.8" cy="764.4" r="3.9"/>
<circle cx="116.0" cy="766.2" r="3.9"/>
<circle cx="119.2" cy="763.8" r="3.9"/>
<circle cx="122.5" cy="761.2" r="3.9"/>
<circle cx="125.8" cy="757.5" r="3.9"/>
<circle cx="129.0" cy="753.8" r="3.9"/>
<circle cx="132.2" cy="743.8" r="3.9"/>
<circle cx="135.5" cy="740.6" r="3.9"/>
<circle cx="138.8" cy="737.5" r="3.9"/>
<circle cx="142.0" cy="732.5" r="3.9"/>
<circle cx="145.2" cy="718.8" r="3.9"/>
<circle cx="148.5" cy="716.2" r="3.9"/>
<circle cx="151.8" cy="720.0" r="3.9"/>
<circle cx="155.0" cy="723.8" r="3.9"/>
<circle cx="158.2" cy="690.0" r="3.9"/>
<circle cx="161.5" cy="697.5" r="3.9"/>
<circle cx="164.8" cy="688.8" r="3.9"/>
<circle cx="168.0" cy="687.5" r="3.9"/>
<circle cx="171.2" cy="677.5" r="3.9"/>
<circle cx="174.5" cy="665.0" r="3.9"/>
<circle cx="177.8" cy="663.1" r="3.9"/>
<circle cx="181.0" cy="661.2" r="3.9"/>
<circle cx="184.2" cy="648.8" r="3.9"/>
<circle cx="187.5" cy="638.1" r="3.9"/>
<circle cx="190.8" cy="627.5" r="3.9"/>
<circle cx="194.0" cy="612.5" r="3.9"/>
<circle cx="197.2" cy="607.5" r="3.9"/>
<circle cx="200.5" cy="587.5" r="3.9"/>
<circle cx="203.8" cy="580.0" r="3.9"/>
<circle cx="207.0" cy="568.8" r="3.9"/>
<circle cx="210.2" cy="555.0" r="3.9"/>
<circle cx="213.5" cy="548.8" r="3.9"/>
<circle cx="216.8" cy="537.5" r="3.9"/>
<circle cx="220.0" cy="482.5" r="3.9"/>
<circle cx="223.2" cy="491.2" r="3.9"/>
<circle cx="226.5" cy="528.8" r="3.9"/>
<circle cx="229.8" cy="555.0" r="3.9"/>
<circle cx="233.0" cy="558.8" r="3.9"/>
<circle cx="236.2" cy="555.0" r="3.9"/>
<circle cx="239.5" cy="563.8" r="3.9"/>
<circle cx="242.8" cy="576.0" r="3.9"/>
<circle cx="246.0" cy="592.5" r="3.9"/>
<circle cx="249.2" cy="610.0" r="3.9"/>
<circle cx="252.5" cy="621.2" r="3.9"/>
<circle cx="255.8" cy="627.5" r="3.9"/>
<circle cx="259.0" cy="633.8" r="3.9"/>
<circle cx="262.2" cy="641.2" r="3.9"/>
<circle cx="265.5" cy="641.2" r="3.9"/>
<circle cx="268.8" cy="647.5" r="3.9"/>
<circle cx="272.0" cy="660.5" r="3.9"/>
<circle cx="275.2" cy="657.5" r="3.9"/>
<circle cx="278.5" cy="648.8" r="3.9"/>
<circle cx="281.8" cy="652.5" r="3.9"/>
<circle cx="285.0" cy="677.5" r="3.9"/>
<circle cx="288.2" cy="673.8" r="3.9"/>
<circle cx="291.5" cy="670.0" r="3.9"/>
<circle cx="294.8" cy="681.2" r="3.9"/>
<circle cx="298.0" cy="691.2" r="3.9"/>
<circle cx="301.2" cy="690.0" r="3.9"/>
<circle cx="304.5" cy="685.6" r="3.9"/>
<circle cx="307.8" cy="681.2" r="3.9"/>
<circle cx="311.0" cy="716.2" r="3.9"/>
<circle cx="314.2" cy="705.0" r="3.9"/>
<circle cx="317.5" cy="726.2" r="3.9"/>
<circle cx="320.8" cy="708.8" r="3.9"/>
<circle cx="324.0" cy="715.0" r="3.9"/>
<circle cx="327.2" cy="719.4" r="3.9"/>
<circle cx="330.5" cy="723.8" r="3.9"/>
<circle cx="333.8" cy="726.2" r="3.9"/>
<circle cx="337.0" cy="728.8" r="3.9"/>
<circle cx="340.2" cy="733.8" r="3.9"/>
<circle cx="343.5" cy="731.9" r="3.9"/>
<circle cx="346.8" cy="730.0" r="3.9"/>
<circle cx="350.0" cy="753.8" r="3.9"/>
<circle cx="353.2" cy="737.5" r="3.9"/>
<circle cx="356.5" cy="740.0" r="3.9"/>
<circle cx="359.8" cy="726.2" r="3.9"/>
<circle cx="363.0" cy="727.5" r="3.9"/>
<circle cx="366.2" cy="750.0" r="3.9"/>
<circle cx="369.5" cy="748.8" r="3.9"/>
<circle cx="372.8" cy="766.2" r="3.9"/>
<circle cx="376.0" cy="757.5" r="3.9"/>
<circle cx="379.2" cy="761.2" r="3.9"/>
<circle cx="382.5" cy="760.4" r="3.9"/>
<circle cx="385.8" cy="759.5" r="3.9"/>
<circle cx="389.0" cy="764.2" r="3.9"/>
<circle cx="392.2" cy="762.9" r="3.9"/>
<circle cx="395.5" cy="761.6" r="3.9"/>
<circle cx="398.8" cy="762.9" r="3.9"/>
<circle cx="402.0" cy="764.2" r="3.9"/>
<circle cx="405.2" cy="762.9" r="3.9"/>
<circle cx="408.5" cy="764.8" r="3.9"/>
<circle cx="411.8" cy="766.8" r="3.9"/>
<circle cx="415.0" cy="765.5" r="3.9"/>
<circle cx="418.2" cy="764.2" r="3.9"/>
<circle cx="421.5" cy="759.0" r="3.9"/>
<circle cx="424.8" cy="758.4" r="3.9"/>
<circle cx="428.0" cy="757.7" r="3.9"/>
<circle cx="431.2" cy="756.4" r="3.9"/>
<circle cx="434.5" cy="755.1" r="3.9"/>
<circle cx="437.8" cy="756.4" r="3.9"/>
<circle cx="441.0" cy="752.5" r="3.9"/>
<circle cx="444.2" cy="748.6" r="3.9"/>
<circle cx="447.5" cy="744.8" r="3.9"/>
<circle cx="450.8" cy="743.5" r="3.9"/>
<circle cx="454.0" cy="742.2" r="3.9"/>
<circle cx="457.2" cy="738.3" r="3.9"/>
<circle cx="460.5" cy="727.9" r="3.9"/>
<circle cx="463.8" cy="724.0" r="3.9"/>
<circle cx="467.0" cy="720.1" r="3.9"/>
<circle cx="470.2" cy="717.5" r="3.9"/>
<circle cx="473.5" cy="714.9" r="3.9"/>
<circle cx="476.8" cy="711.0" r="3.9"/>
<circle cx="480.0" cy="703.2" r="3.9"/>
<circle cx="483.2" cy="698.0" r="3.9"/>
<circle cx="486.5" cy="692.8" r="3.9"/>
<circle cx="489.8" cy="685.0" r="3.9"/>
<circle cx="493.0" cy="679.9" r="3.9"/>
<circle cx="496.2" cy="676.6" r="3.9"/>
<circle cx="499.5" cy="673.4" r="3.9"/>
<circle cx="502.8" cy="669.5" r="3.9"/>
<circle cx="506.0" cy="676.0" r="3.9"/>
<circle cx="509.2" cy="666.9" r="3.9"/>
<circle cx="512.5" cy="665.6" r="3.9"/>
</g>
</g>
<rect x="301.0" y="454.0" width="199.5" height="150.0" fill="#fff"/>
<path d="M348.6 454.0V604.0M396.4 454.0V604.0M444.2 454.0V604.0M492.0 454.0V604.0M301.0 543.6H500.5M301.0 483.2H500.5" stroke="#e3e3e3" stroke-width="1" fill="none"/>
<clipPath id="ic"><rect x="301.0" y="454.0" width="199.5" height="150.0"/></clipPath>
<g clip-path="url(#ic)"><path d="M310.4 605.2C312.0 603.3 316.7 596.4 319.9 594.0C323.1 591.6 326.3 595.3 329.5 591.0C332.7 586.6 335.9 572.0 339.0 567.8C342.2 563.5 345.4 567.5 348.6 565.4C351.8 563.2 355.0 558.1 358.2 555.1C361.3 552.1 364.5 551.2 367.7 547.2C370.9 543.3 374.1 535.7 377.3 531.5C380.5 527.4 383.7 533.8 386.8 522.5C390.0 511.2 394.1 474.5 396.4 463.9C398.7 453.4 399.0 457.8 400.6 459.3C402.2 460.8 403.5 464.6 406.0 473.0C408.4 481.4 412.3 499.2 415.5 509.8C418.7 520.4 421.9 531.4 425.1 536.4C428.3 541.3 431.5 539.4 434.6 539.4C437.8 539.4 441.0 535.5 444.2 536.4C447.4 537.3 450.6 541.7 453.8 544.8C456.9 548.0 460.1 550.7 463.3 555.1C466.5 559.5 469.7 565.2 472.9 571.4C476.1 577.6 479.3 587.3 482.4 592.5C485.6 597.8 490.4 601.1 492.0 602.8" fill="none" stroke="#c81414" stroke-width="2.1"/>
<g fill="none" stroke="#a82a2a" stroke-width="0.9">
<circle cx="319.9" cy="594.0" r="3.3"/>
<circle cx="329.5" cy="591.0" r="3.3"/>
<circle cx="339.0" cy="567.8" r="3.3"/>
<circle cx="348.6" cy="565.4" r="3.3"/>
<circle cx="358.2" cy="555.1" r="3.3"/>
<circle cx="367.7" cy="547.2" r="3.3"/>
<circle cx="377.3" cy="531.5" r="3.3"/>
<circle cx="386.8" cy="522.5" r="3.3"/>
<circle cx="396.4" cy="463.9" r="3.3"/>
<circle cx="406.0" cy="473.0" r="3.3"/>
<circle cx="415.5" cy="509.8" r="3.3"/>
<circle cx="425.1" cy="536.4" r="3.3"/>
<circle cx="434.6" cy="539.4" r="3.3"/>
<circle cx="444.2" cy="536.4" r="3.3"/>
<circle cx="453.8" cy="544.8" r="3.3"/>
<circle cx="463.3" cy="555.1" r="3.3"/>
<circle cx="472.9" cy="571.4" r="3.3"/>
<circle cx="482.4" cy="592.5" r="3.3"/>
<circle cx="492.0" cy="602.8" r="3.3"/>
</g></g>
<rect x="301.0" y="454.0" width="199.5" height="150.0" fill="none" stroke="#1a1a1a" stroke-width="1.6"/>
<path d="M324.7 454.0v1.8M324.7 604.0v-1.8M348.6 454.0v2.6M348.6 604.0v-2.6M372.5 454.0v1.8M372.5 604.0v-1.8M396.4 454.0v2.6M396.4 604.0v-2.6M420.3 454.0v1.8M420.3 604.0v-1.8M444.2 454.0v2.6M444.2 604.0v-2.6M468.1 454.0v1.8M468.1 604.0v-1.8M492.0 454.0v2.6M492.0 604.0v-2.6M301.0 573.8h1.8M500.5 573.8h-1.8M301.0 543.6h2.6M500.5 543.6h-2.6M301.0 513.4h1.8M500.5 513.4h-1.8M301.0 483.2h2.6M500.5 483.2h-2.6" stroke="#1a1a1a" stroke-width="1.2" fill="none"/>
</g>
<g font-family="'Liberation Sans', Arial, sans-serif" font-weight="bold" fill="#000">
<g font-size="15.5" text-anchor="middle">
<text x="88.5" y="400.4">740</text>
<text x="154.4" y="400.4">760</text>
<text x="220.2" y="400.4">780</text>
<text x="286.1" y="400.4">800</text>
<text x="351.9" y="400.4">820</text>
<text x="417.8" y="400.4">840</text>
<text x="483.6" y="400.4">860</text>
<text x="89.7" y="828.7">740</text>
<text x="154.7" y="828.7">760</text>
<text x="219.7" y="828.7">780</text>
<text x="284.7" y="828.7">800</text>
<text x="349.7" y="828.7">820</text>
<text x="414.7" y="828.7">840</text>
<text x="479.7" y="828.7">860</text>
</g>
<g font-size="15.5" text-anchor="end">
<text x="48" y="13.4">0</text>
<text x="48" y="75.3">5</text>
<text x="48" y="137.2">10</text>
<text x="48" y="199.1">15</text>
<text x="48" y="260.9">20</text>
<text x="48" y="322.8">25</text>
<text x="48" y="384.7">30</text>
<text x="48.3" y="807.5">0</text>
<text x="48.3" y="747.3">5</text>
<text x="48.3" y="687.1">10</text>
<text x="48.3" y="627.0">15</text>
<text x="48.3" y="566.8">20</text>
<text x="48.3" y="506.6">25</text>
<text x="48.3" y="446.4">30</text>
</g>
<g font-size="16" text-anchor="middle">
<text x="300.8" y="619.6">770</text>
<text x="348.6" y="619.6">775</text>
<text x="396.4" y="619.6">780</text>
<text x="444.2" y="619.6">785</text>
<text x="492.0" y="619.6">790</text>
</g><g font-size="16" text-anchor="end">
<text x="298.7" y="605.0">15</text>
<text x="298.7" y="544.6">20</text>
<text x="298.7" y="484.2">25</text>
</g>
<text x="189.4" y="425.7" font-size="24.5" textLength="197" lengthAdjust="spacingAndGlyphs">Wavelength (nm)</text>
<text x="188.2" y="854.9" font-size="24" textLength="193" lengthAdjust="spacingAndGlyphs">Wavelength (nm)</text>
<text transform="translate(21,291.3) rotate(-90)" font-size="24" textLength="214" lengthAdjust="spacingAndGlyphs">Transmission (dB)</text>
<text transform="translate(20.6,720.2) rotate(-90)" font-size="24" textLength="212.5" lengthAdjust="spacingAndGlyphs">Transmission (dB)</text>
<text x="85.6" y="72.7" font-size="28">(a)</text>
<text x="78" y="484.2" font-size="28">(b)</text>
<text x="307.30" y="85.3" font-size="26.5" fill="#3f7c22" textLength="110.42" lengthAdjust="spacingAndGlyphs">Insertion</text>
<text x="425.00" y="85.3" font-size="26.5" fill="#3f7c22" stroke="#3f7c22" stroke-width="0.55" stroke-linejoin="round" textLength="47.10" lengthAdjust="spacingAndGlyphs">Loss</text>
<text x="307.30" y="264.1" font-size="26.5" fill="#1616cc" stroke="#1616cc" stroke-width="0.26" stroke-linejoin="round" textLength="62.62" lengthAdjust="spacingAndGlyphs">Cross</text>
<text x="377.10" y="264.1" font-size="26.5" fill="#1616cc" textLength="48.91" lengthAdjust="spacingAndGlyphs">port</text>
<text x="436.00" y="264.1" font-size="26.5" fill="#1616cc" stroke="#1616cc" stroke-width="0.26" stroke-linejoin="round" textLength="45.50" lengthAdjust="spacingAndGlyphs">PER</text>
<text x="178.40" y="725.4" font-size="25.5" fill="#cc2c34" textLength="103.23" lengthAdjust="spacingAndGlyphs">Through</text>
<text x="177.50" y="760.4" font-size="25.5" fill="#cc2c34" textLength="49.92" lengthAdjust="spacingAndGlyphs">port</text>
<text x="235.90" y="760.4" font-size="25.5" fill="#cc2c34" stroke="#cc2c34" stroke-width="0.13" stroke-linejoin="round" textLength="45.45" lengthAdjust="spacingAndGlyphs">PER</text>
<text x="328.60" y="794.4" font-size="24.5" fill="#a3a3a3" textLength="110.24" lengthAdjust="spacingAndGlyphs">Insertion</text>
<text x="445.40" y="794.4" font-size="24.5" fill="#a3a3a3" stroke="#a3a3a3" stroke-width="0.15" stroke-linejoin="round" textLength="49.34" lengthAdjust="spacingAndGlyphs">Loss</text>
</g>
</svg>
</body></html>
